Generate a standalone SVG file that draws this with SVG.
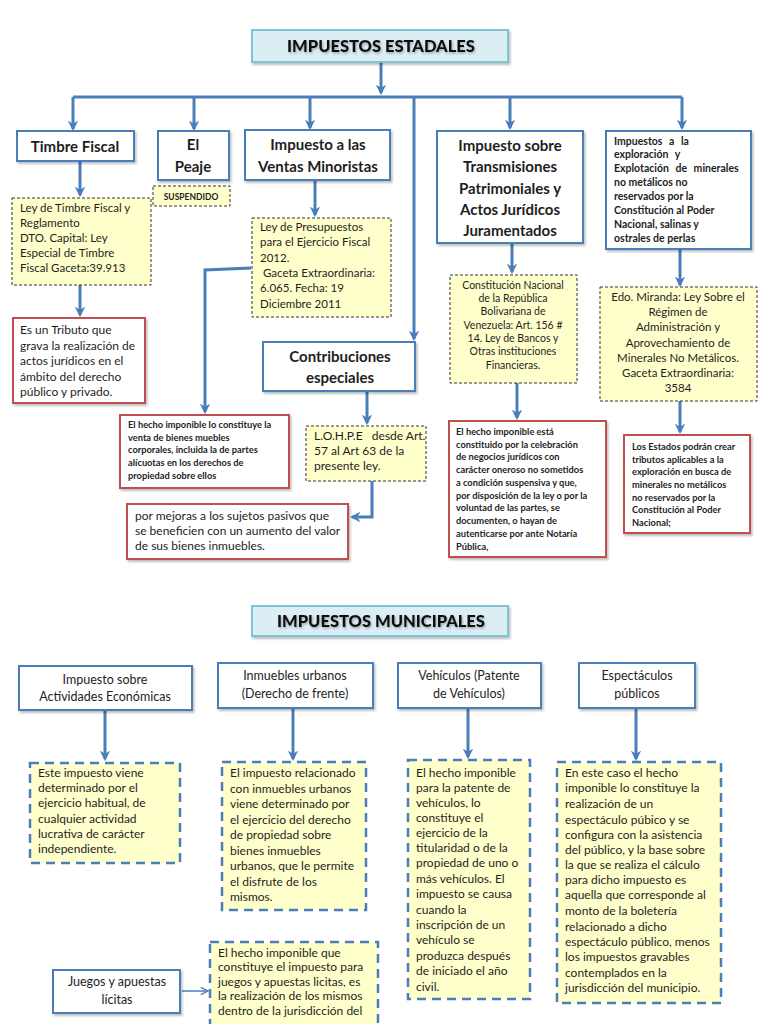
<svg xmlns="http://www.w3.org/2000/svg" width="768" height="1024" viewBox="0 0 768 1024">
<style>
text{font-family:"Lato","Liberation Sans",sans-serif;fill:#1e1e1e}
.conn{stroke:#4a7ebb;stroke-width:3;fill:none;marker-end:url(#ah)}
.bus{stroke:#4a7ebb;stroke-width:3;fill:none}
.thin{stroke:#4a7ebb;stroke-width:1.5;fill:none;marker-end:url(#ah2)}
.node{fill:#fff;stroke:#4a7ebb;stroke-width:2;filter:url(#sh)}
.red{fill:#fff;stroke:#c0504d;stroke-width:2;filter:url(#sh)}
.yel{fill:#ffffcc;stroke:#333;stroke-width:1;stroke-dasharray:3 2}
.yelb{fill:#ffffcc;stroke:#4a7ebb;stroke-width:2.5;stroke-dasharray:9 6}
.title{fill:#dbeef4;stroke:#7fc3d6;stroke-width:2;filter:url(#sh)}
.tt{font-weight:900;font-size:16.5px;text-anchor:middle;fill:#111;filter:url(#tsh)}
.big{font-weight:bold;font-size:15px;text-anchor:middle}
.sm{font-size:11.5px}
.xs{font-size:9.3px;font-weight:bold;fill:#333}
.mid{font-size:12.5px;text-anchor:middle}
.body{font-size:12px}
.ws{word-spacing:4px}
</style>
<defs>
<marker id="ah" viewBox="0 0 10 10" refX="8" refY="5" markerWidth="3.5" markerHeight="3.5" orient="auto" markerUnits="strokeWidth">
<path d="M0,0 L10,5 L0,10 L3,5 z" fill="#4a7ebb"/>
</marker>
<marker id="ah2" viewBox="0 0 10 10" refX="9" refY="5" markerWidth="6" markerHeight="6" orient="auto" markerUnits="strokeWidth">
<path d="M1,1 L9,5 L1,9" fill="none" stroke="#4a7ebb" stroke-width="1.5"/>
</marker>
<filter id="sh" x="-10%" y="-10%" width="125%" height="130%">
<feDropShadow dx="1.5" dy="2" stdDeviation="1.2" flood-color="#000" flood-opacity="0.25"/>
</filter>
<filter id="tsh" x="-5%" y="-20%" width="110%" height="150%">
<feDropShadow dx="1" dy="1.5" stdDeviation="0.8" flood-color="#000" flood-opacity="0.3"/>
</filter>
</defs>
<rect width="768" height="1024" fill="#fff"/>

<g id="connectors">
<path class="conn" d="M381,62 V93"/>
<path class="bus" d="M73,97 H682"/>
<path class="conn" d="M73,97 V129"/>
<path class="conn" d="M194,97 V129"/>
<path class="conn" d="M310,97 V128"/>
<path class="conn" d="M414,97 V339"/>
<path class="conn" d="M510,97 V128"/>
<path class="conn" d="M682,97 V128"/>
<path class="conn" d="M80,161 V195"/>
<path class="conn" d="M80,285 V315"/>
<path class="conn" d="M315,180 V215"/>
<path class="conn" d="M251,268 L205,270 V412"/>
<path class="conn" d="M367,391 V423"/>
<path class="conn" d="M372,481 V517 H352"/>
<path class="conn" d="M512,243 V272"/>
<path class="conn" d="M517,383 V418"/>
<path class="conn" d="M680,250 V285"/>
<path class="conn" d="M680,401 V432"/>
<path class="conn" d="M105,710 V759"/>
<path class="conn" d="M293,708 V759"/>
<path class="conn" d="M468,708 V757"/>
<path class="conn" d="M636,708 V759"/>
<path class="thin" d="M182,991 H208"/>
</g>

<g id="title-estadales">
<rect class="title" x="252" y="30" width="256" height="32"/>
<text class="tt" x="381" y="52">IMPUESTOS ESTADALES</text>
</g>

<g id="timbre">
<rect class="node" x="17" y="131" width="117" height="30"/>
<text class="big" x="75" y="152">Timbre Fiscal</text>
</g>
<g id="peaje">
<rect class="node" x="158" y="131" width="71" height="49"/>
<text class="big" x="193" y="150">El</text>
<text class="big" x="193" y="172">Peaje</text>
</g>
<g id="suspendido">
<rect class="yel" x="153" y="186" width="77" height="20" stroke="#222"/>
<text x="191" y="200" font-size="8.5" font-weight="bold" text-anchor="middle">SUSPENDIDO</text>
</g>
<g id="ventas">
<rect class="node" x="245" y="130" width="145" height="50"/>
<text class="big" x="318" y="150">Impuesto a las</text>
<text class="big" x="318" y="172">Ventas Minoristas</text>
</g>
<g id="transmisiones">
<rect class="node" x="437" y="131" width="146" height="112"/>
<text class="big" x="510" y="151">Impuesto sobre</text>
<text class="big" x="510" y="172">Transmisiones</text>
<text class="big" x="510" y="194">Patrimoniales y</text>
<text class="big" x="510" y="215">Actos Jurídicos</text>
<text class="big" x="510" y="236">Juramentados</text>
</g>
<g id="minerales">
<rect class="node" x="606" y="131" width="145" height="118"/>
<g font-size="10.5" font-weight="bold">
<text class="ws" x="614" y="145">Impuestos a la</text>
<text class="ws" x="614" y="158">exploración y</text>
<text class="ws" x="614" y="172">Explotación de minerales</text>
<text x="614" y="186">no metálicos no</text>
<text x="614" y="200">reservados por la</text>
<text x="614" y="214">Constitución al Poder</text>
<text x="614" y="228">Nacional, salinas y</text>
<text x="614" y="242">ostrales de perlas</text>
</g>
</g>

<g id="ley-timbre">
<rect class="yel" x="12" y="198" width="139" height="87"/>
<g class="sm">
<text x="20" y="212">Ley de Timbre Fiscal y</text>
<text x="20" y="227">Reglamento</text>
<text x="20" y="242">DTO. Capital: Ley</text>
<text x="20" y="257">Especial de Timbre</text>
<text x="20" y="272">Fiscal Gaceta:39.913</text>
</g>
</g>
<g id="tributo">
<rect class="red" x="13" y="318" width="132" height="85"/>
<g class="body">
<text x="20" y="334">Es un Tributo que</text>
<text x="20" y="350">grava la realización de</text>
<text x="20" y="365">actos jurídicos en el</text>
<text x="20" y="381">ámbito del derecho</text>
<text x="20" y="396">público y privado.</text>
</g>
</g>
<g id="ley-presupuestos">
<rect class="yel" x="252" y="218" width="139" height="99"/>
<g class="sm">
<text x="260" y="231">Ley de Presupuestos</text>
<text x="260" y="246">para el Ejercicio Fiscal</text>
<text x="260" y="262">2012.</text>
<text x="263" y="277">Gaceta Extraordinaria:</text>
<text x="260" y="292">6.065. Fecha: 19</text>
<text x="260" y="308">Diciembre 2011</text>
</g>
</g>
<g id="hecho-ventas">
<rect class="red" x="120" y="415" width="169" height="73"/>
<g class="xs">
<text x="128" y="428">El hecho imponible lo constituye la</text>
<text x="128" y="441">venta de bienes muebles</text>
<text x="128" y="453">corporales, incluida la de partes</text>
<text x="128" y="466">alícuotas en los derechos de</text>
<text x="128" y="479">propiedad sobre ellos</text>
</g>
</g>
<g id="contribuciones">
<rect class="node" x="263" y="342" width="152" height="49"/>
<text class="big" x="340" y="362">Contribuciones</text>
<text class="big" x="340" y="383">especiales</text>
</g>
<g id="lohpe">
<rect class="yel" x="306" y="426" width="120" height="55"/>
<g class="body">
<text x="314" y="440" xml:space="preserve">L.O.H.P.E   desde Art.</text>
<text x="314" y="455">57 al Art 63 de la</text>
<text x="314" y="470">presente ley.</text>
</g>
</g>
<g id="mejoras">
<rect class="red" x="127" y="504" width="221" height="55"/>
<g class="body">
<text x="135" y="520">por mejoras a los sujetos pasivos que</text>
<text x="135" y="535">se beneficien con un aumento del valor</text>
<text x="135" y="550">de sus bienes inmuebles.</text>
</g>
</g>
<g id="constitucion">
<rect class="yel" x="450" y="275" width="127" height="108"/>
<g font-size="10.5" text-anchor="middle">
<text x="513" y="289">Constitución Nacional</text>
<text x="513" y="302">de la República</text>
<text x="513" y="315">Bolivariana de</text>
<text x="513" y="329">Venezuela: Art. 156 #</text>
<text x="513" y="342">14. Ley de Bancos y</text>
<text x="513" y="355">Otras instituciones</text>
<text x="513" y="369">Financieras.</text>
</g>
</g>
<g id="hecho-transmisiones">
<rect class="red" x="449" y="421" width="157" height="136"/>
<g class="xs">
<text x="456" y="435">El hecho imponible está</text>
<text x="456" y="448">constituido por la celebración</text>
<text x="456" y="460">de negocios jurídicos con</text>
<text x="456" y="473">carácter oneroso no sometidos</text>
<text x="456" y="486">a condición suspensiva y que,</text>
<text x="456" y="499">por disposición de la ley o por la</text>
<text x="456" y="511">voluntad de las partes, se</text>
<text x="456" y="524">documenten, o hayan de</text>
<text x="456" y="537">autenticarse por ante Notaría</text>
<text x="456" y="550">Pública,</text>
</g>
</g>
<g id="miranda">
<rect class="yel" x="600" y="287" width="157" height="114"/>
<g font-size="11.5" text-anchor="middle">
<text x="678" y="301">Edo. Miranda: Ley Sobre el</text>
<text x="678" y="316">Régimen de</text>
<text x="678" y="331">Administración y</text>
<text x="678" y="347">Aprovechamiento de</text>
<text x="678" y="362">Minerales No Metálicos.</text>
<text x="678" y="377">Gaceta Extraordinaria:</text>
<text x="678" y="392">3584</text>
</g>
</g>
<g id="estados-crear">
<rect class="red" x="624" y="435" width="126" height="98"/>
<g class="xs">
<text x="632" y="450">Los Estados podrán crear</text>
<text x="632" y="463">tributos aplicables a la</text>
<text x="632" y="475">exploración en busca de</text>
<text x="632" y="488">minerales no metálicos</text>
<text x="632" y="501">no reservados por la</text>
<text x="632" y="513">Constitución al Poder</text>
<text x="632" y="526">Nacional;</text>
</g>
</g>

<g id="title-municipales">
<rect class="title" x="252" y="606" width="256" height="30"/>
<text class="tt" x="381" y="627">IMPUESTOS MUNICIPALES</text>
</g>
<g id="actividades">
<rect class="node" x="19" y="666" width="173" height="44"/>
<text class="mid" x="105" y="684">Impuesto sobre</text>
<text class="mid" x="105" y="701">Actividades Económicas</text>
</g>
<g id="inmuebles">
<rect class="node" x="218" y="663" width="155" height="45"/>
<text class="mid" x="295" y="680">Inmuebles urbanos</text>
<text class="mid" x="295" y="698">(Derecho de frente)</text>
</g>
<g id="vehiculos">
<rect class="node" x="398" y="663" width="143" height="45"/>
<text class="mid" x="469" y="680">Vehículos (Patente</text>
<text class="mid" x="469" y="698">de Vehículos)</text>
</g>
<g id="espectaculos">
<rect class="node" x="579" y="663" width="116" height="45"/>
<text class="mid" x="637" y="680">Espectáculos</text>
<text class="mid" x="637" y="698">públicos</text>
</g>
<g id="desc-actividades">
<rect class="yelb" x="30" y="763" width="150" height="100"/>
<g class="body">
<text x="38" y="777">Este impuesto viene</text>
<text x="38" y="792">determinado por el</text>
<text x="38" y="807">ejercicio habitual, de</text>
<text x="38" y="823">cualquier actividad</text>
<text x="38" y="838">lucrativa de carácter</text>
<text x="38" y="853">independiente.</text>
</g>
</g>
<g id="desc-inmuebles">
<rect class="yelb" x="222" y="762" width="144" height="148"/>
<g class="body">
<text x="230" y="777">El impuesto relacionado</text>
<text x="230" y="793">con inmuebles urbanos</text>
<text x="230" y="808">viene determinado por</text>
<text x="230" y="824">el ejercicio del derecho</text>
<text x="230" y="839">de propiedad sobre</text>
<text x="230" y="855">bienes inmuebles</text>
<text x="230" y="870">urbanos, que le permite</text>
<text x="230" y="886">el disfrute de los</text>
<text x="230" y="901">mismos.</text>
</g>
</g>
<g id="desc-vehiculos">
<rect class="yelb" x="408" y="760" width="122" height="239"/>
<g class="body">
<text x="416" y="777">El hecho imponible</text>
<text x="416" y="792">para la patente de</text>
<text x="416" y="807">vehículos, lo</text>
<text x="416" y="822">constituye el</text>
<text x="416" y="837">ejercicio de la</text>
<text x="416" y="852">titularidad o de la</text>
<text x="416" y="867">propiedad de uno o</text>
<text x="416" y="883">más vehículos. El</text>
<text x="416" y="898">impuesto se causa</text>
<text x="416" y="914">cuando la</text>
<text x="416" y="929">inscripción de un</text>
<text x="416" y="944">vehículo se</text>
<text x="416" y="960">produzca después</text>
<text x="416" y="975">de iniciado el año</text>
<text x="416" y="991">civil.</text>
</g>
</g>
<g id="desc-espectaculos">
<rect class="yelb" x="557" y="762" width="164" height="241"/>
<g class="body">
<text x="565" y="777">En este caso el hecho</text>
<text x="565" y="792">imponible lo constituye la</text>
<text x="565" y="808">realización de un</text>
<text x="565" y="824">espectáculo púbico y se</text>
<text x="565" y="839">configura con la asistencia</text>
<text x="565" y="854">del público, y la base sobre</text>
<text x="565" y="869">la que se realiza el cálculo</text>
<text x="565" y="884">para dicho impuesto es</text>
<text x="565" y="899">aquella que corresponde al</text>
<text x="565" y="915">monto de la boletería</text>
<text x="565" y="931">relacionado a dicho</text>
<text x="565" y="946">espectáculo público, menos</text>
<text x="565" y="961">los impuestos gravables</text>
<text x="565" y="977">contemplados en la</text>
<text x="565" y="992">jurisdicción del municipio.</text>
</g>
</g>
<g id="juegos">
<rect class="node" x="53" y="970" width="127" height="43"/>
<text class="mid" x="117" y="986">Juegos y apuestas</text>
<text class="mid" x="117" y="1004">lícitas</text>
</g>
<g id="desc-juegos">
<rect class="yelb" x="210" y="942" width="168" height="100"/>
<g class="body">
<text x="218" y="957">El hecho imponible que</text>
<text x="218" y="971">constituye el impuesto para</text>
<text x="218" y="986">juegos y apuestas licitas, es</text>
<text x="218" y="1000">la realización de los mismos</text>
<text x="218" y="1015">dentro de la jurisdicción del</text>
</g>
</g>
</svg>
